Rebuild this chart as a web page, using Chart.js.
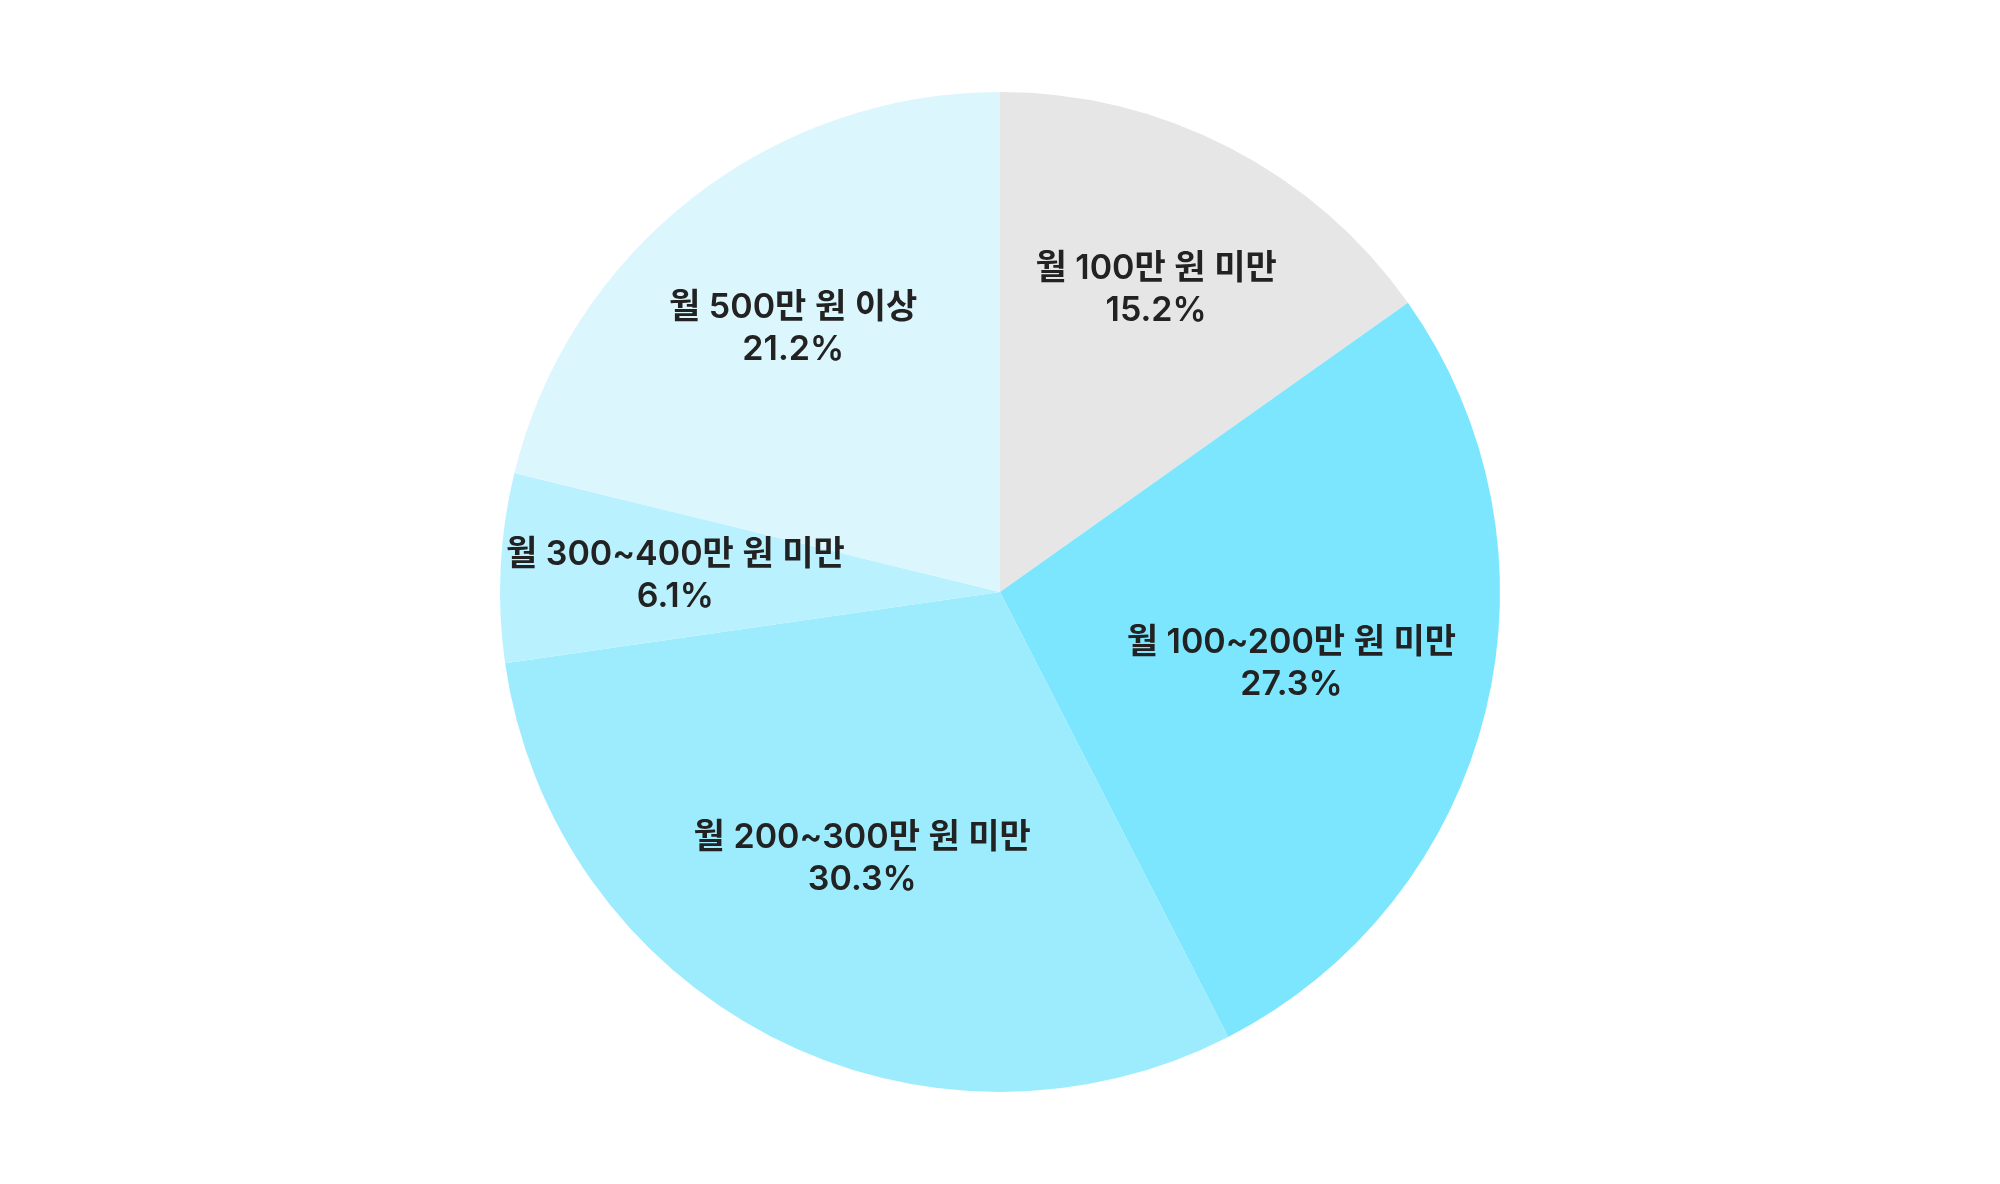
<!DOCTYPE html>
<html lang="ko">
<head>
<meta charset="utf-8">
<title>월 소득 분포</title>
<script src="https://cdn.jsdelivr.net/npm/chart.js@4.4.1/dist/chart.umd.min.js"></script>
<style>
	html, body { margin: 0; padding: 0; background: #ffffff; }
	#wrap { width: 2000px; height: 1184px; position: relative; }
</style>
</head>
<body>
<div id="wrap"><canvas id="chart"></canvas></div>
<script>
// Chart data
var categories = ['월 100만 원 미만', '월 100~200만 원 미만', '월 200~300만 원 미만', '월 300~400만 원 미만', '월 500만 원 이상'];
var shares = [15.2, 27.3, 30.3, 6.1, 21.2];

// Slice colours
var sliceColors = ['#e6e6e6', '#7ce6fe', '#9decfe', '#baf1fe', '#dcf6fd'];

// How far out each label sits, as a share of the radius
var labelRadiusRatio = [0.68, 0.60, 0.60, 0.65, 0.67];

var FONT = 'Inter, "Noto Sans CJK KR", "Noto Sans", sans-serif';

// Draw category name + percentage inside every slice
var sliceLabels = {
	id: 'sliceLabels',
	afterDatasetsDraw: function(chart) {
		var ctx = chart.ctx;
		var meta = chart.getDatasetMeta(0);

		ctx.save();
		ctx.fillStyle = '#222222';
		ctx.font = '600 34px ' + FONT;
		ctx.textAlign = 'center';
		ctx.textBaseline = 'middle';

		meta.data.forEach(function(arc, i) {
			var p = arc.getProps(['x', 'y', 'startAngle', 'endAngle', 'outerRadius'], true);
			var mid = (p.startAngle + p.endAngle) / 2;
			var r = p.outerRadius * labelRadiusRatio[i];
			var cx = p.x + Math.cos(mid) * r;
			var cy = p.y + Math.sin(mid) * r;

			ctx.fillText(categories[i], cx, cy - 21);
			ctx.fillText(shares[i].toFixed(1) + '%', cx, cy + 21);
		});

		ctx.restore();
	}
};

new Chart(document.getElementById('chart'), {
	type: 'pie',
	data: {
		labels: categories,
		datasets: [{
			data: shares,
			backgroundColor: sliceColors,
			borderWidth: 0
		}]
	},
	options: {
		responsive: true,
		maintainAspectRatio: false,
		animation: false,
		layout: {
			padding: { top: 92, bottom: 92 }
		},
		plugins: {
			legend: { display: false },
			tooltip: { enabled: false }
		}
	},
	plugins: [sliceLabels]
});
</script>
</body>
</html>
